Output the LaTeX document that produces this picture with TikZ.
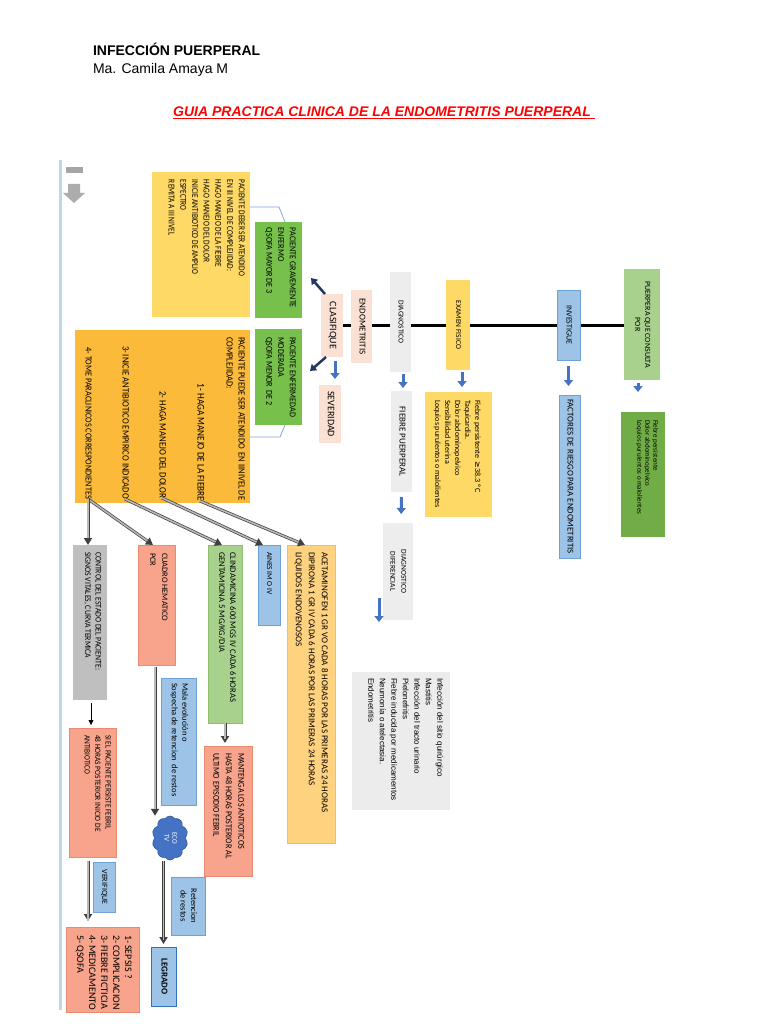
\documentclass[tikz,border=0pt]{standalone}
\usepackage{fontspec}
\usepackage{graphicx}
\setmainfont{Carlito}
\newfontfamily\arialf{Liberation Sans}
\newfontfamily\dvf{DejaVu Sans}
\newfontfamily\cfa[FakeStretch=0.9]{Carlito}
\newfontfamily\cfb[FakeStretch=0.82]{Carlito}
\usetikzlibrary{arrows.meta,shapes.symbols,calc}
\pgfdeclarelayer{bg}
\pgfsetlayers{bg,main}
\definecolor{greenL}{HTML}{A9D18E}
\definecolor{greenLd}{HTML}{8FBF6F}
\definecolor{greenD}{HTML}{70AD47}
\definecolor{greenB}{HTML}{77C04B}
\definecolor{lbluec}{HTML}{9DC3E6}
\definecolor{bbluec}{HTML}{6FA0D6}
\definecolor{legd}{HTML}{2E75B6}
\definecolor{yelc}{HTML}{FFD966}
\definecolor{acetc}{HTML}{FFD280}
\definecolor{acetd}{HTML}{F5B971}
\definecolor{orangec}{HTML}{FBBA3A}
\definecolor{lgrayc}{HTML}{EDEDED}
\definecolor{dlistc}{HTML}{ECECEC}
\definecolor{mgrayc}{HTML}{BFBFBF}
\definecolor{pinkc}{HTML}{FBE1D4}
\definecolor{salc}{HTML}{F8A48C}
\definecolor{sald}{HTML}{E98A73}
\definecolor{arrblue}{HTML}{4472C4}
\definecolor{navyc}{HTML}{1F3864}
\definecolor{cloudc}{HTML}{4472C4}
\definecolor{cloudd}{HTML}{2F528F}
\definecolor{vlinec}{HTML}{BDD7EE}
\definecolor{redc}{HTML}{FF0000}
\definecolor{tbluec}{HTML}{7FA6D8}
\newcommand\RotL[1]{\rotatebox{-90}{\begin{tabular}{@{}l@{}}#1\end{tabular}}}
\newcommand\RotC[1]{\rotatebox{-90}{\begin{tabular}{@{}c@{}}#1\end{tabular}}}
\newcommand\fsz[2]{\fontsize{#1}{#2}\selectfont}
\newcommand\bx[7]{\node[bx,#6,minimum width={#4-#2},minimum height={#5-#3}] (#1) at ({(#2+#4)/2},{(#3+#5)/2}) {#7};}
\tikzset{
  bx/.style={inner sep=0pt, outer sep=0pt},
  txt/.style={inner sep=0pt, outer sep=0pt},
  blueb/.style={fill=lbluec, draw=bbluec, line width=0.5pt},
  salb/.style={fill=salc, draw=sald, line width=0.5pt},
  barrow/.style={draw=arrblue, line width=3pt, -{Triangle[width=9pt,length=6pt]}},
  narrow/.style={draw=navyc, line width=2.5pt, -{Triangle[width=8pt,length=6pt]}},
  garrow/.style={draw=black!75, line width=3pt, -{Triangle[width=8pt,length=7pt]},
     postaction={draw=gray!55, line width=1.6pt, -, shorten >=7pt}},
  tarrow/.style={draw=black, line width=0.8pt, -{Triangle[width=5pt,length=5pt]}},
  tblue/.style={draw=tbluec, line width=0.8pt},
}
\begin{document}
\begin{tikzpicture}[x=1pt,y=-1pt]
\useasboundingbox (0,0) rectangle (768,1024);
\begin{pgfonlayer}{bg}
\fill[white] (0,0) rectangle (768,1024);
\end{pgfonlayer}

% header
\node[txt, anchor=base west, font=\arialf\bfseries\fsz{14}{16}] (h1) at (93,56) {INFECCIÓN PUERPERAL};
\node[txt, anchor=base west, font=\arialf\fsz{14}{16}] (h2) at (93,74) {Ma. Camila Amaya M};
\node[txt, anchor=base, font=\arialf\bfseries\itshape\fsz{14}{16}, text=redc] (h3) at (384,117) {\underline{GUIA PRACTICA CLINICA DE LA ENDOMETRITIS PUERPERAL\ }};

% left rule and icon
\draw[vlinec, line width=3pt] (60,160) -- (60,1010);
\fill[gray!70] (66,167) rectangle (83,173);
\fill[gray!65] (68,184) -- (80,184) -- (80,193) -- (85,193) -- (74,203) -- (63,193) -- (68,193) -- cycle;

% right column
\bx{puer}{624}{269}{660}{380}{fill=greenL, font=\fsz{8}{10}}{\RotC{PUERPERA QUE CONSULTA\\POR}}
\bx{sint}{621}{412}{665}{537}{fill=greenD}{}
\node[txt, anchor=north east, font=\fsz{7}{8}] (sintt) at ($(sint.north east)+(-6,8)$) {\RotL{Fiebre persistente\\Dolor abdominopelvico\\Loquios purulentos o malolientes}};
\bx{inv}{557}{290}{580}{360}{blueb, font=\fsz{8}{10}}{\RotC{INVESTIGUE}}
\bx{fact}{559}{395}{580}{558}{blueb, font=\fsz{8.8}{10}}{\RotC{FACTORES DE RIESGO PARA ENDOMETRITIS}}
\bx{exf}{446}{280}{470}{370}{fill=yelc, font=\fsz{7.5}{9}}{\RotC{EXAMEN FISICO}}
\bx{exl}{425}{392}{492}{517}{fill=yelc}{}
\node[txt, anchor=north east, font=\fsz{8}{10}] (exlt) at ($(exl.north east)+(-10,8)$) {\RotL{Fiebre persistente\ \ {\dvf ≥}38.3\,°\,C\\Taquicardia.\\Dolor abdominopelvico\\Sensibilidad uterina\\Loquios purulentos o malolientes}};
\bx{diag}{390}{272}{411}{372}{fill=lgrayc, font=\fsz{7.5}{9}}{\RotC{DIAGNOSTICO}}
\bx{fp}{391}{391}{412}{492}{fill=lgrayc, font=\fsz{9}{10}}{\RotC{FIEBRE PUERPERAL}}
\bx{dd}{383}{523}{413}{620}{fill=lgrayc, font=\fsz{7.5}{11}}{\RotC{DIAGNOSTICO\\DIFERENCIAL}}
\bx{dlist}{352}{672}{450}{810}{fill=dlistc}{}
\node[txt, anchor=north east, font=\arialf\fsz{8}{11.5}] (dlistt) at ($(dlist.north east)+(-4.5,6)$) {\RotL{Infección del sitio quirúrgico\\Mastitis\\Infección del tracto urinario\\Pielonefritis\\Fiebre inducida por medicamentos\\Neumonía o atelectasia.\\Endometritis}};
\bx{endo}{351}{290}{372}{363}{fill=pinkc, font=\fsz{9}{10}}{\RotC{ENDOMETRITIS}}
\bx{clas}{321}{294}{343}{357}{fill=pinkc, font=\fsz{10}{11}}{\RotC{CLASIFIQUE}}
\bx{sev}{319}{385}{341}{443}{fill=pinkc, font=\fsz{10}{11}}{\RotC{SEVERIDAD}}

% severity boxes
\bx{grave}{255}{222}{302}{318}{fill=greenB}{}
\node[txt, anchor=north east, font=\cfa\fsz{9}{11.7}] (gravet) at ($(grave.north east)+(-4,6)$) {\RotL{PACIENTE GRAVEMENTE\\ENFERMO\\QSOFA MAYOR DE 3}};
\bx{moder}{255}{329}{302}{425}{fill=greenB}{}
\node[txt, anchor=north east, font=\cfa\fsz{9}{11.7}] (modert) at ($(moder.north east)+(-4,8)$) {\RotL{PACIENTE ENFERMEDAD\\MODERADA\\QSOFA MENOR\ \ DE 2}};
\bx{topor}{152}{172}{250}{317}{fill=yelc}{}
\node[txt, anchor=north east, font=\cfb\fsz{9}{11.7}] (topert) at ($(topor.north east)+(-3,8)$) {\RotL{PACIENTE DEBER SER ATENDIDO\\EN III NIVEL DE COMPLEJIDAD:\\HAGO MANEJO DE LA FIEBRE\\HAGO MANEJO DEL DOLOR\\INICIE ANTIBIOTICO DE AMPLIO\\ESPECTRO\\REMITA A III NIVEL}};
\bx{bigor}{75}{330}{250}{503}{fill=orangec}{}
\node[txt, anchor=north east, font=\cfa\fsz{9.5}{12}] (l0) at ($(bigor.north east)+(-3,7)$) {\RotL{PACIENTE PUEDE SER ATENDIDO\ \ EN IINIVEL DE\\COMPLEJIDAD:}};
\node[txt, anchor=south, font=\cfa\fsz{10.2}{12}] (l1) at (200,501) {\RotL{1- HAGA MANEJO DE LA FIEBRE}};
\node[txt, anchor=south, font=\cfa\fsz{9.8}{12}] (l2) at (162,498) {\RotL{2- HAGA MANEJO DEL DOLOR}};
\node[txt, anchor=south, font=\cfa\fsz{9.6}{12}] (l3) at (125,499) {\RotL{3- INICIE ANTIBIOTICO EMPIRICO INDICADO}};
\node[txt, anchor=south, font=\cfa\fsz{9.2}{12}] (l4) at (88,499) {\RotL{4- TOME PARACLINICOS CORRESPONDIENTES}};

% treatment boxes
\bx{aceta}{287}{545}{335}{843}{fill=acetc, draw=acetd, line width=0.5pt}{}
\node[txt, anchor=north east, font=\fsz{9}{13}] (acetat) at ($(aceta.north east)+(-4,7)$) {\RotL{ACETAMINOFEN 1 GR VO CADA 8 HORAS POR LAS PRIMERAS 24 HORAS\\DIPIRONA 1 GR IV CADA 6 HORAS POR LAS PRIMERAS 24 HORAS\\LIQUIDOS ENDOVENOSOS}};
\bx{aines}{258}{545}{280}{625}{blueb}{}
\node[txt, anchor=north, font=\fsz{7.5}{9}] (ainest) at ($(aines.north)+(0,7)$) {\RotL{AINES IM O IV}};
\bx{clin}{208}{545}{242}{723}{fill=greenL, draw=greenLd, line width=0.5pt}{}
\node[txt, anchor=north east, font=\fsz{8.6}{11}] (clint) at ($(clin.north east)+(-4.3,7)$) {\RotL{CLINDAMICINA 600 MGS IV CADA 6 HORAS\\GENTAMICINA 5 MG/KG/DIA}};
\bx{mant}{204}{746}{252}{876}{salb}{}
\node[txt, anchor=north east, font=\cfa\fsz{9}{12.5}] (mantt) at ($(mant.north east)+(-5,7)$) {\RotL{MANTENGA LOS ANTIOTICOS\\HASTA 48 HORAS POSTERIOR AL\\ULTIMO EPISODIO FEBRIL}};
\bx{cuad}{138}{545}{175}{665}{salb}{}
\node[txt, anchor=north east, font=\fsz{8.4}{12}] (cuadt) at ($(cuad.north east)+(-4.6,8)$) {\RotL{CUADRO HEMATICO\\PCR}};
\bx{mala}{161}{678}{196}{805}{blueb}{}
\node[txt, anchor=north east, font=\fsz{8.5}{10.5}] (malat) at ($(mala.north east)+(-6.3,5)$) {\RotL{Mala evolución o\\Sospecha de retencion\ \ de restos}};
\node[cloud, cloud puffs=10, cloud puff arc=120, aspect=0.8, fill=cloudc, draw=cloudd, line width=0.5pt, minimum width=36pt, minimum height=44pt, inner sep=0pt, font=\fsz{7}{8}, text=white] (eco) at (170,838) {\RotC{ECO\\TV}};
\bx{ret}{171}{877}{205}{935}{blueb, font=\fsz{8.5}{10.5}}{\RotC{Retencion\\de restos}}
\bx{leg}{151}{947}{176}{1006}{blueb, draw=legd, font=\bfseries\fsz{9}{10}}{\RotC{LEGRADO}}
\bx{ctrl}{73}{545}{107}{700}{fill=mgrayc}{}
\node[txt, anchor=north east, font=\cfa\fsz{8.6}{10.5}] (ctrlt) at ($(ctrl.north east)+(-4,7)$) {\RotL{CONTROL DEL ESTADO DEL PACIENTE:\\SIGNOS VITALES, CURVA TERMICA}};
\bx{si}{69}{728}{116}{857}{salb}{}
\node[txt, anchor=north east, font=\cfa\fsz{8.2}{10.5}] (sit) at ($(si.north east)+(-3,7)$) {\RotL{SI EL PACIENTE PERSISTE FEBRIL\\48 HORAS POSTERIOR INICIO DE\\ANTIBIOTICO}};
\bx{ver}{93}{862}{115}{912}{blueb, font=\fsz{8}{10}}{\RotC{VERIFIQUE}}
\bx{fin}{66}{927}{139}{1012}{salb}{}
\node[txt, anchor=north east, font=\fsz{10}{12}] (fint) at ($(fin.north east)+(-5.5,8)$) {\RotL{1- SEPSIS ?\\2- COMPLICACION\\3- FIEBRE FICTICIA\\4- MEDICAMENTO\\5- QSOFA}};

% main horizontal line
\begin{pgfonlayer}{bg}
\draw[line width=3pt] (clas.east) -- (clas.east -| puer.west);
\end{pgfonlayer}

% blue arrows
\draw[barrow, shorten <=3pt, shorten >=20pt] ([xshift=-4pt]puer.south) -- ([xshift=-5pt]sint.north);
\draw[barrow, shorten <=6pt, shorten >=9pt] (inv.south) -- ([xshift=-1pt]fact.north);
\draw[barrow, shorten <=2pt, shorten >=5pt] ([xshift=4pt]exf.south) -- ([xshift=3.5pt]exl.north);
\draw[barrow, shorten <=2pt, shorten >=3pt] ([xshift=2.5pt]diag.south) -- ([xshift=1.5pt]fp.north);
\draw[barrow, shorten <=5pt, shorten >=9pt] (fp.south) -- ([xshift=3pt]dd.north);
\draw[barrow, shorten <=4pt, shorten >=6pt] ([xshift=3pt]clas.south) -- ([xshift=5pt]sev.north);
\draw[barrow] ([xshift=-4pt,yshift=22pt]dd.south west) -- ([xshift=-4pt,yshift=-2pt]dd.south west);

% navy arrows
\coordinate (ua) at (311,278);
\coordinate (lb) at (310,371);
\draw[narrow] ([xshift=4pt]clas.north west) -- (ua);
\draw[narrow] ([xshift=5pt]clas.south west) -- (lb);

% thin blue links
\coordinate (c1) at (279,207);
\coordinate (c2) at (280,437);
\draw[tblue] ([xshift=6.5pt]grave.north) -- (c1) -- (c1 -| topor.east);
\draw[tblue] ([xshift=6.5pt]moder.south) -- (c2) -- (c2 -| bigor.east);

% gray arrows
\draw[garrow] (l1.south) -- ([xshift=18pt]aceta.north west);
\draw[garrow] (l2.south) -- ([xshift=5pt]aines.north west);
\draw[garrow] (l3.south) -- ([xshift=14pt]clin.north west);
\draw[garrow] (l4.south) -- ([xshift=15pt]cuad.north west);
\draw[garrow] (l4.south) -- ([xshift=15pt]ctrl.north west);
\draw[garrow, shorten >=3pt] (clin.south) -- (clin.south |- mant.north);
\draw[garrow, shorten <=2pt] ([xshift=-1.5pt]cuad.south) -- ([xshift=-1.5pt]cuad.south |- eco.north);
\draw[garrow, shorten <=1pt, shorten >=3pt] (leg.north |- eco.south) -- (leg.north);
\draw[garrow, shorten <=4pt, shorten >=6pt] ([xshift=-4.5pt]si.south) -- ([xshift=-4.5pt]si.south |- fin.north);
\draw[tarrow, shorten <=3pt, shorten >=3pt] ([xshift=1pt]ctrl.south) -- ([xshift=1pt]ctrl.south |- si.north);
\end{tikzpicture}
\end{document}
